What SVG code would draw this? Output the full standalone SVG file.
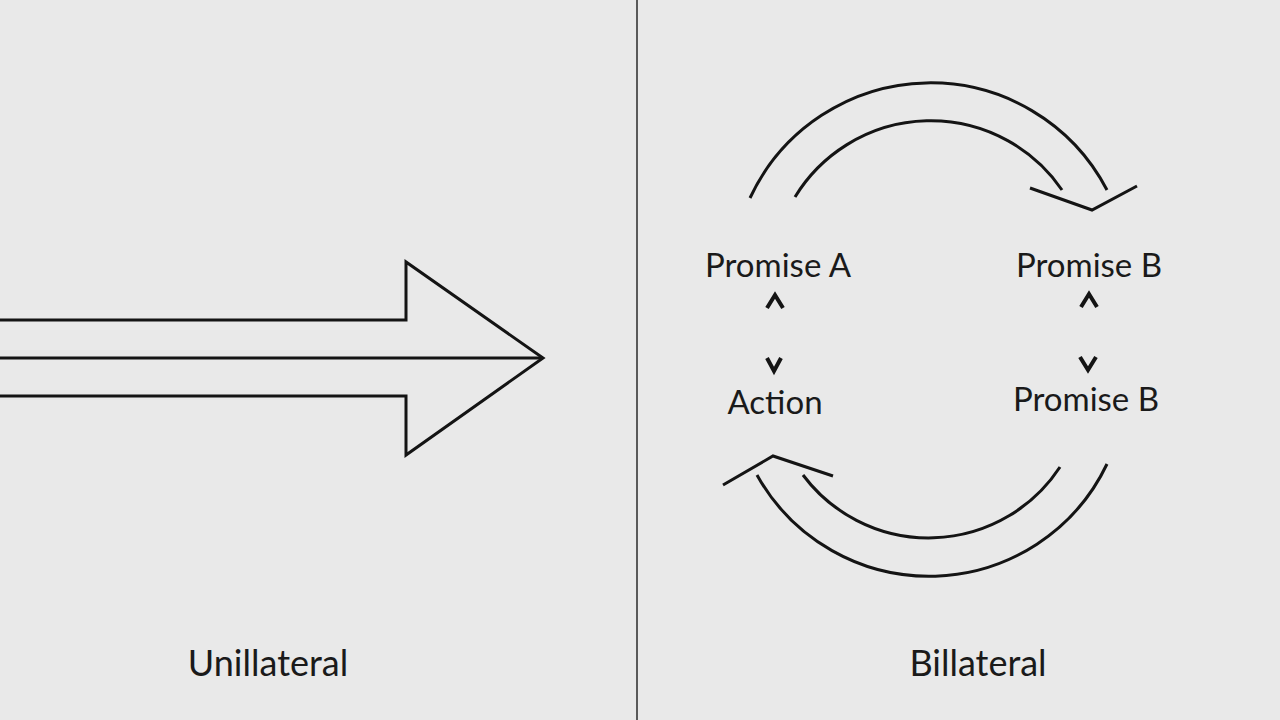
<svg xmlns="http://www.w3.org/2000/svg" width="1280" height="720" viewBox="0 0 1280 720">
<style>
.ln{fill:none;stroke:#141414;stroke-width:3;stroke-linejoin:miter;stroke-linecap:butt}
.chev{fill:none;stroke:#141414;stroke-width:4;stroke-linejoin:miter}
.lbl{font-family:Lato,"Open Sans",sans-serif;fill:#1a1a1a;text-anchor:middle}
</style>
<rect width="1280" height="720" fill="#e9e9e9"/>
<line x1="637" y1="0" x2="637" y2="720" stroke="#2a2a2a" stroke-width="1.5"/>
<g id="unilateral-arrow">
<polyline class="ln" points="0,320 406,320 406,262 543,358 406,455 406,396 0,396"/>
<line class="ln" x1="0" y1="358" x2="543" y2="358"/>
</g>
<g id="connectors">
<path class="ln" d="M750,198 A199,199 0 0 1 1107,190"/>
<path class="ln" d="M795,197 A159,159 0 0 1 1062,190"/>
<polyline class="ln" points="1030,188 1092,210 1137,186"/>
<path class="ln" d="M757,475 A197,197 0 0 0 1107,464"/>
<path class="ln" d="M803,475 A157,157 0 0 0 1060,467"/>
<polyline class="ln" points="723,485 773,456 833,476"/>
<polyline class="chev" points="767,308 775,295 783,308"/>
<polyline class="chev" points="767,358 774,371 781,358"/>
<polyline class="chev" points="1081,307 1089,294 1097,307"/>
<polyline class="chev" points="1080,357 1088,370 1096,357"/>
</g>
<g id="promise-a"><text class="lbl" x="778" y="277" font-size="33">Promise A</text></g>
<g id="promise-b-top"><text class="lbl" x="1089" y="277" font-size="33">Promise B</text></g>
<g id="action"><text class="lbl" x="775" y="414" font-size="33">Action</text></g>
<g id="promise-b-bottom"><text class="lbl" x="1086" y="411" font-size="33">Promise B</text></g>
<g id="unilateral-label"><text class="lbl" x="268" y="676" font-size="36">Unillateral</text></g>
<g id="bilateral-label"><text class="lbl" x="978" y="676" font-size="36">Billateral</text></g>
</svg>
